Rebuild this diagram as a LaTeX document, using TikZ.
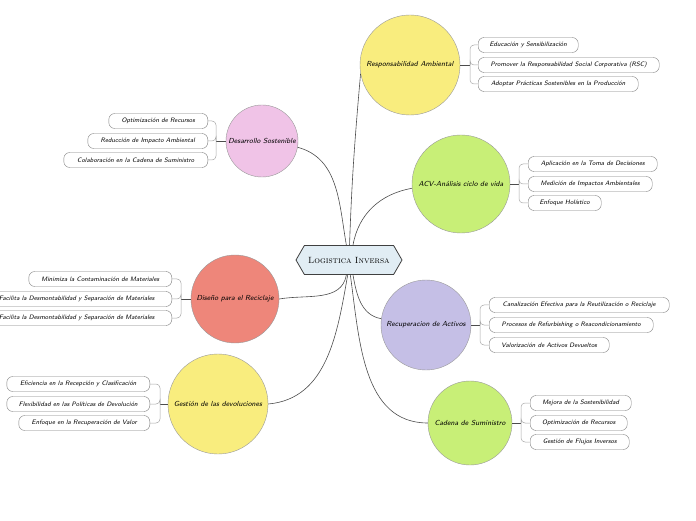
\documentclass[tikz,border=0pt]{standalone}
\usepackage{tikz}
\usetikzlibrary{shapes.symbols}

\definecolor{hubblue}{HTML}{E1EDF4}
\definecolor{topicyellow}{HTML}{F9ED7E}
\definecolor{topicgreen}{HTML}{C8EF77}
\definecolor{topiclilac}{HTML}{C5BFE6}
\definecolor{topicpink}{HTML}{F0C3E7}
\definecolor{topicred}{HTML}{EE867A}

\begin{document}
\begin{tikzpicture}[x=1pt, y=1pt,
		topic/.style={circle, draw=black!40, fill=#1, inner sep=0pt, font=\fontsize{7.3}{8}\selectfont\sffamily\itshape},
		leaf/.style={draw=black!50, rounded corners=6pt, fill=white, minimum height=15pt, inner sep=1pt, font=\fontsize{6.4}{7}\selectfont\sffamily\itshape},
		link/.style={draw=black!70, line width=0.6pt},
		branch/.style={draw=black!35, line width=0.5pt, rounded corners=4pt}]
		\useasboundingbox (0,0) rectangle (696,520);
		\clip (0,0) rectangle (696,520);

		% Central node
		\node[signal, signal to=east and west, signal pointer angle=120, draw=black!75, fill=hubblue, line width=0.8pt,
			minimum width=106pt, minimum height=29pt, font=\fontsize{9}{10}\selectfont\scshape] (hub) at (349,260) {Logistica Inversa};

		% Topics
		\node[topic=topicyellow, minimum size=100pt] (resp) at (410,455) {Responsabilidad Ambiental};
		\node[topic=topicgreen, minimum size=98pt] (acv) at (461,336) {ACV-Análisis ciclo de vida};
		\node[topic=topiclilac, minimum size=90pt] (recup) at (426,195) {Recuperacion de Activos};
		\node[topic=topicgreen, minimum size=84pt] (cadena) at (470,97) {Cadena de Suministro};
		\node[topic=topicpink, minimum size=72pt] (desarrollo) at (262,379) {Desarrollo Sostenible};
		\node[topic=topicred, minimum size=88pt] (diseno) at (235,221) {Diseño para el Reciclaje};
		\node[topic=topicyellow, minimum size=100pt] (gestion) at (218,116) {Gestión de las devoluciones};

		% Links from the central node
		\draw[link] (hub.88) to[out=88,in=-95] (resp.190);
		\draw[link] (hub.75) to[out=80,in=190] (acv.185);
		\draw[link] (hub.-75) to[out=-80,in=170] (recup.172);
		\draw[link] (hub.-85) to[out=-82,in=180] (cadena.west);
		\draw[link] (desarrollo.-10) to[out=-15,in=100] (hub.100);
		\draw[link] (diseno.east) to[out=10,in=-100] (hub.-100);
		\draw[link] (gestion.east) to[out=5,in=-100] (hub.-95);

		% Responsabilidad Ambiental
		\coordinate (jresp) at (470,455);
		\draw[link] (resp.east) -- (jresp);
		\foreach \n/\y/\w/\t in {1/475/100/{Educación y Sensibilización},
				2/455/181/{Promover la Responsabilidad Social Corporativa (RSC)},
				3/436/160/{Adoptar Prácticas Sostenibles en la Producción}} {
			\node[leaf, minimum width=\w pt, anchor=west] (resp\n) at (478,\y) {\t};
			\draw[branch] (jresp) |- (resp\n.west);
		}

		% ACV
		\coordinate (jacv) at (519,336);
		\draw[link] (acv.east) -- (jacv);
		\foreach \n/\y/\w/\t in {1/356/129/{Aplicación en la Toma de Decisiones},
				2/336/124/{Medición de Impactos Ambientales},
				3/317/73/{Enfoque Holístico}} {
			\node[leaf, minimum width=\w pt, anchor=west] (acv\n) at (528,\y) {\t};
			\draw[branch] (jacv) |- (acv\n.west);
		}

		% Recuperacion de Activos
		\coordinate (jrecup) at (480,195);
		\draw[link] (recup.east) -- (jrecup);
		\foreach \n/\y/\w/\t in {1/215/180/{Canalización Efectiva para la Reutilización o Reciclaje},
				2/195/164/{Procesos de Refurbishing o Reacondicionamiento},
				3/175/120/{Valorización de Activos Devueltos}} {
			\node[leaf, minimum width=\w pt, anchor=west] (recup\n) at (489,\y) {\t};
			\draw[branch] (jrecup) |- (recup\n.west);
		}

		% Cadena de Suministro
		\coordinate (jcadena) at (521,97);
		\draw[link] (cadena.east) -- (jcadena);
		\foreach \n/\y/\w/\t in {1/117/101/{Mejora de la Sostenibilidad},
				2/97/97/{Optimización de Recursos},
				3/78/99/{Gestión de Flujos Inversos}} {
			\node[leaf, minimum width=\w pt, anchor=west] (cadena\n) at (530,\y) {\t};
			\draw[branch] (jcadena) |- (cadena\n.west);
		}

		% Desarrollo Sostenible
		\coordinate (jdesarrollo) at (216,379);
		\draw[link] (desarrollo.west) -- (jdesarrollo);
		\foreach \n/\y/\w/\t in {1/399/99/{Optimización de Recursos},
				2/379/120/{Reducción de Impacto Ambiental},
				3/360/144/{Colaboración en la Cadena de Suministro}} {
			\node[leaf, minimum width=\w pt, anchor=east] (desarrollo\n) at (208,\y) {\t};
			\draw[branch] (jdesarrollo) |- (desarrollo\n.east);
		}

		% Diseño para el Reciclaje
		\coordinate (jdiseno) at (181,221);
		\draw[link] (diseno.west) -- (jdiseno);
		\foreach \n/\y/\w/\t in {1/241/143/{Minimiza la Contaminación de Materiales},
				2/221/190/{Facilita la Desmontabilidad y Separación de Materiales},
				3/202/190/{Facilita la Desmontabilidad y Separación de Materiales}} {
			\node[leaf, minimum width=\w pt, anchor=east] (diseno\n) at (172,\y) {\t};
			\draw[branch] (jdiseno) |- (diseno\n.east);
		}

		% Gestión de las devoluciones
		\coordinate (jgestion) at (160,116);
		\draw[link] (gestion.west) -- (jgestion);
		\foreach \n/\y/\w/\t in {1/136/143/{Eficiencia en la Recepción y Clasificación},
				2/116/143/{Flexibilidad en las Políticas de Devolución},
				3/97/131/{Enfoque en la Recuperación de Valor}} {
			\node[leaf, minimum width=\w pt, anchor=east] (gestion\n) at (150,\y) {\t};
			\draw[branch] (jgestion) |- (gestion\n.east);
		}
	\end{tikzpicture}
\end{document}
